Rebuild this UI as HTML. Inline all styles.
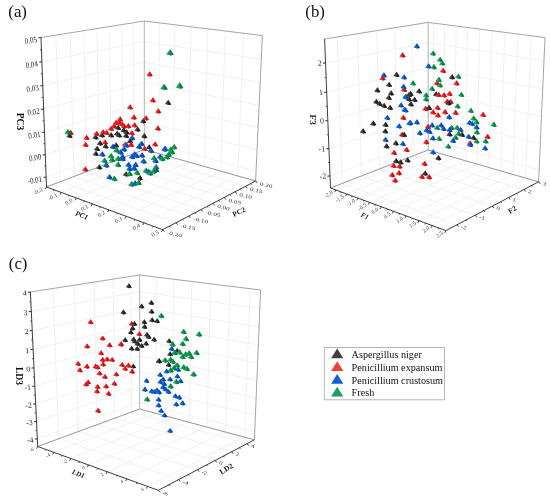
<!DOCTYPE html>
<html><head><meta charset="utf-8"><title>Figure</title>
<style>html,body{margin:0;padding:0;background:#fff}svg{display:block;font-family:"Liberation Serif","DejaVu Serif",serif}</style></head>
<body>
<svg width="550" height="501" viewBox="0 0 550 501">
<rect width="550" height="501" fill="#fff"/>
<defs><filter id="soft" x="0" y="0" width="550" height="501" filterUnits="userSpaceOnUse"><feGaussianBlur stdDeviation="0.38"/></filter><g id="mk"><polygon points="0.1,-2.7 -3.1,1.5 0.2,2.6 3.1,1.9" fill="#3c3c3c"/><polygon points="0.1,-2.7 0.2,2.6 3.1,1.9" fill="#1e1e1e"/></g><g id="mr"><polygon points="0.1,-2.7 -3.1,1.5 0.2,2.6 3.1,1.9" fill="#f22424"/><polygon points="0.1,-2.7 0.2,2.6 3.1,1.9" fill="#b81414"/></g><g id="mb"><polygon points="0.1,-2.7 -3.1,1.5 0.2,2.6 3.1,1.9" fill="#0c62dc"/><polygon points="0.1,-2.7 0.2,2.6 3.1,1.9" fill="#0844a0"/></g><g id="mg"><polygon points="0.1,-2.7 -3.1,1.5 0.2,2.6 3.1,1.9" fill="#12a254"/><polygon points="0.1,-2.7 0.2,2.6 3.1,1.9" fill="#0a7a3c"/></g></defs>
<g filter="url(#soft)">
<line x1="61.21" y1="192.41" x2="158.72" y2="153.56" stroke="#ececec" stroke-width="0.75" />
<line x1="158.60" y1="153.52" x2="159.38" y2="22.85" stroke="#ececec" stroke-width="0.75" />
<line x1="76.49" y1="198.02" x2="173.52" y2="157.75" stroke="#ececec" stroke-width="0.75" />
<line x1="173.32" y1="157.69" x2="174.92" y2="24.78" stroke="#ececec" stroke-width="0.75" />
<line x1="92.37" y1="203.86" x2="188.82" y2="162.08" stroke="#ececec" stroke-width="0.75" />
<line x1="188.57" y1="162.01" x2="191.06" y2="26.77" stroke="#ececec" stroke-width="0.75" />
<line x1="108.89" y1="209.93" x2="204.65" y2="166.57" stroke="#ececec" stroke-width="0.75" />
<line x1="204.39" y1="166.49" x2="207.84" y2="28.85" stroke="#ececec" stroke-width="0.75" />
<line x1="126.09" y1="216.25" x2="221.04" y2="171.21" stroke="#ececec" stroke-width="0.75" />
<line x1="220.81" y1="171.15" x2="225.30" y2="31.01" stroke="#ececec" stroke-width="0.75" />
<line x1="144.01" y1="222.83" x2="238.01" y2="176.02" stroke="#ececec" stroke-width="0.75" />
<line x1="237.87" y1="175.98" x2="243.47" y2="33.26" stroke="#ececec" stroke-width="0.75" />
<line x1="60.35" y1="181.69" x2="176.07" y2="222.69" stroke="#ececec" stroke-width="0.75" />
<line x1="60.52" y1="181.63" x2="55.91" y2="35.12" stroke="#ececec" stroke-width="0.75" />
<line x1="73.70" y1="176.58" x2="188.88" y2="215.98" stroke="#ececec" stroke-width="0.75" />
<line x1="73.97" y1="176.48" x2="70.19" y2="32.84" stroke="#ececec" stroke-width="0.75" />
<line x1="86.55" y1="171.66" x2="201.15" y2="209.54" stroke="#ececec" stroke-width="0.75" />
<line x1="86.88" y1="171.53" x2="83.86" y2="30.66" stroke="#ececec" stroke-width="0.75" />
<line x1="98.95" y1="166.91" x2="212.93" y2="203.37" stroke="#ececec" stroke-width="0.75" />
<line x1="99.29" y1="166.78" x2="96.96" y2="28.57" stroke="#ececec" stroke-width="0.75" />
<line x1="110.91" y1="162.33" x2="224.23" y2="197.44" stroke="#ececec" stroke-width="0.75" />
<line x1="111.22" y1="162.21" x2="109.54" y2="26.56" stroke="#ececec" stroke-width="0.75" />
<line x1="122.46" y1="157.90" x2="235.10" y2="191.75" stroke="#ececec" stroke-width="0.75" />
<line x1="122.70" y1="157.81" x2="121.62" y2="24.63" stroke="#ececec" stroke-width="0.75" />
<line x1="133.62" y1="153.63" x2="245.54" y2="186.27" stroke="#ececec" stroke-width="0.75" />
<line x1="133.75" y1="153.58" x2="133.23" y2="22.78" stroke="#ececec" stroke-width="0.75" />
<line x1="46.14" y1="177.09" x2="144.40" y2="140.92" stroke="#ececec" stroke-width="0.75" />
<line x1="144.40" y1="140.96" x2="256.05" y2="171.40" stroke="#ececec" stroke-width="0.75" />
<line x1="45.32" y1="154.79" x2="144.40" y2="121.64" stroke="#ececec" stroke-width="0.75" />
<line x1="144.40" y1="121.76" x2="257.06" y2="149.79" stroke="#ececec" stroke-width="0.75" />
<line x1="44.48" y1="132.13" x2="144.40" y2="102.09" stroke="#ececec" stroke-width="0.75" />
<line x1="144.40" y1="102.25" x2="258.09" y2="127.79" stroke="#ececec" stroke-width="0.75" />
<line x1="43.63" y1="109.07" x2="144.40" y2="82.26" stroke="#ececec" stroke-width="0.75" />
<line x1="144.40" y1="82.43" x2="259.14" y2="105.38" stroke="#ececec" stroke-width="0.75" />
<line x1="42.77" y1="85.62" x2="144.40" y2="62.13" stroke="#ececec" stroke-width="0.75" />
<line x1="144.40" y1="62.29" x2="260.20" y2="82.55" stroke="#ececec" stroke-width="0.75" />
<line x1="41.89" y1="61.77" x2="144.40" y2="41.72" stroke="#ececec" stroke-width="0.75" />
<line x1="144.40" y1="41.81" x2="261.29" y2="59.30" stroke="#ececec" stroke-width="0.75" />
<line x1="144.40" y1="21.00" x2="144.40" y2="149.50" stroke="#c4c4c4" stroke-width="1.3" />
<line x1="41.00" y1="37.50" x2="144.40" y2="21.00" stroke="#9a9a9a" stroke-width="0.9" />
<line x1="144.40" y1="21.00" x2="262.40" y2="35.60" stroke="#9a9a9a" stroke-width="0.9" />
<line x1="262.40" y1="35.60" x2="255.60" y2="181.00" stroke="#9a9a9a" stroke-width="0.9" />
<line x1="46.50" y1="187.00" x2="144.40" y2="149.50" stroke="#8a8a8a" stroke-width="0.9" />
<line x1="144.40" y1="149.50" x2="255.60" y2="181.00" stroke="#8a8a8a" stroke-width="0.9" />
<use href="#mg" transform="translate(170.0 52.4) scale(1.20)"/>
<use href="#mr" x="149.6" y="74.0"/>
<use href="#mg" transform="translate(164.0 87.0) scale(1.20)"/>
<use href="#mg" transform="translate(179.6 85.6) scale(1.20)"/>
<use href="#mr" x="152.8" y="100.0"/>
<use href="#mk" x="168.0" y="102.5"/>
<use href="#mr" x="70.5" y="132.5"/>
<use href="#mk" x="69.5" y="135.5"/>
<use href="#mg" transform="translate(67.8 132.0) scale(1.08)"/>
<use href="#mr" x="86.5" y="137.5"/>
<use href="#mk" x="95.5" y="137.0"/>
<use href="#mr" x="96.5" y="133.5"/>
<use href="#mk" x="102.0" y="135.0"/>
<use href="#mr" x="103.0" y="132.0"/>
<use href="#mr" x="106.5" y="132.5"/>
<use href="#mr" x="114.0" y="126.0"/>
<use href="#mr" x="111.0" y="128.5"/>
<use href="#mk" x="111.0" y="135.0"/>
<use href="#mk" x="100.0" y="143.0"/>
<use href="#mr" x="105.0" y="142.0"/>
<use href="#mr" x="85.5" y="144.5"/>
<use href="#mr" x="130.0" y="107.0"/>
<use href="#mr" x="158.2" y="111.0"/>
<use href="#mr" x="133.8" y="117.2"/>
<use href="#mk" x="143.2" y="120.8"/>
<use href="#mr" x="145.8" y="118.0"/>
<use href="#mr" x="120.0" y="119.0"/>
<use href="#mr" x="116.0" y="122.5"/>
<use href="#mr" x="119.0" y="122.0"/>
<use href="#mr" x="122.0" y="124.0"/>
<use href="#mr" x="124.0" y="126.0"/>
<use href="#mr" x="128.2" y="125.8"/>
<use href="#mr" x="134.5" y="125.0"/>
<use href="#mk" x="137.5" y="129.2"/>
<use href="#mr" x="157.8" y="128.2"/>
<use href="#mk" x="118.0" y="127.5"/>
<use href="#mk" x="123.5" y="130.0"/>
<use href="#mk" x="126.5" y="132.0"/>
<use href="#mk" x="117.0" y="133.5"/>
<use href="#mk" x="119.0" y="135.0"/>
<use href="#mk" x="126.0" y="135.5"/>
<use href="#mr" x="131.8" y="133.0"/>
<use href="#mk" x="144.2" y="135.8"/>
<use href="#mb" transform="translate(132.0 137.8) scale(1.06)"/>
<use href="#mk" x="130.0" y="141.0"/>
<use href="#mb" transform="translate(141.5 143.5) scale(1.06)"/>
<use href="#mr" x="155.0" y="144.0"/>
<use href="#mk" x="105.5" y="146.0"/>
<use href="#mb" transform="translate(112.8 146.5) scale(1.06)"/>
<use href="#mk" x="97.0" y="148.5"/>
<use href="#mk" x="95.8" y="153.5"/>
<use href="#mb" transform="translate(102.2 154.0) scale(1.06)"/>
<use href="#mg" transform="translate(111.0 156.0) scale(1.08)"/>
<use href="#mg" transform="translate(112.0 159.5) scale(1.08)"/>
<use href="#mg" transform="translate(104.5 160.5) scale(1.08)"/>
<use href="#mb" transform="translate(106.2 165.0) scale(1.06)"/>
<use href="#mk" x="99.2" y="167.0"/>
<use href="#mr" x="85.2" y="169.0"/>
<use href="#mb" transform="translate(109.5 176.8) scale(1.06)"/>
<use href="#mg" transform="translate(114.2 178.5) scale(1.08)"/>
<use href="#mk" x="116.0" y="145.0"/>
<use href="#mr" x="125.0" y="144.5"/>
<use href="#mb" transform="translate(126.5 145.0) scale(1.06)"/>
<use href="#mr" x="131.0" y="144.5"/>
<use href="#mb" transform="translate(139.0 146.5) scale(1.06)"/>
<use href="#mk" x="149.0" y="147.0"/>
<use href="#mr" x="144.5" y="148.5"/>
<use href="#mb" transform="translate(151.0 150.5) scale(1.06)"/>
<use href="#mb" transform="translate(164.5 149.0) scale(1.06)"/>
<use href="#mg" transform="translate(116.5 150.0) scale(1.08)"/>
<use href="#mb" transform="translate(124.0 149.0) scale(1.06)"/>
<use href="#mb" transform="translate(120.5 152.0) scale(1.06)"/>
<use href="#mb" transform="translate(122.5 156.5) scale(1.06)"/>
<use href="#mb" transform="translate(122.5 158.5) scale(1.06)"/>
<use href="#mg" transform="translate(118.0 158.5) scale(1.08)"/>
<use href="#mb" transform="translate(134.5 154.0) scale(1.06)"/>
<use href="#mb" transform="translate(132.0 156.5) scale(1.06)"/>
<use href="#mb" transform="translate(136.5 155.5) scale(1.06)"/>
<use href="#mb" transform="translate(142.0 155.0) scale(1.06)"/>
<use href="#mb" transform="translate(143.5 161.0) scale(1.06)"/>
<use href="#mg" transform="translate(154.0 158.0) scale(1.08)"/>
<use href="#mb" transform="translate(155.5 160.5) scale(1.06)"/>
<use href="#mb" transform="translate(160.0 156.5) scale(1.06)"/>
<use href="#mg" transform="translate(162.0 158.5) scale(1.08)"/>
<use href="#mg" transform="translate(118.0 164.5) scale(1.08)"/>
<use href="#mb" transform="translate(128.5 164.5) scale(1.06)"/>
<use href="#mb" transform="translate(135.5 164.5) scale(1.06)"/>
<use href="#mb" transform="translate(129.5 168.5) scale(1.06)"/>
<use href="#mb" transform="translate(134.0 168.0) scale(1.06)"/>
<use href="#mg" transform="translate(156.0 167.0) scale(1.08)"/>
<use href="#mb" transform="translate(156.0 169.5) scale(1.06)"/>
<use href="#mg" transform="translate(146.0 170.5) scale(1.08)"/>
<use href="#mb" transform="translate(148.5 171.5) scale(1.06)"/>
<use href="#mg" transform="translate(150.0 173.0) scale(1.08)"/>
<use href="#mg" transform="translate(153.5 171.0) scale(1.08)"/>
<use href="#mg" transform="translate(137.0 172.5) scale(1.08)"/>
<use href="#mk" x="126.0" y="174.0"/>
<use href="#mg" transform="translate(129.5 173.5) scale(1.08)"/>
<use href="#mk" x="139.8" y="177.8"/>
<use href="#mg" transform="translate(131.5 184.0) scale(1.08)"/>
<use href="#mb" transform="translate(135.0 183.0) scale(1.06)"/>
<use href="#mg" transform="translate(138.5 182.5) scale(1.08)"/>
<use href="#mg" transform="translate(174.0 146.8) scale(1.08)"/>
<use href="#mb" transform="translate(165.0 148.5) scale(1.06)"/>
<use href="#mg" transform="translate(170.6 149.5) scale(1.08)"/>
<use href="#mg" transform="translate(171.8 151.7) scale(1.08)"/>
<use href="#mg" transform="translate(168.6 154.3) scale(1.08)"/>
<use href="#mg" transform="translate(166.8 156.8) scale(1.08)"/>
<line x1="41.00" y1="37.50" x2="46.50" y2="187.00" stroke="#333" stroke-width="0.95" />
<line x1="46.50" y1="187.00" x2="162.70" y2="229.70" stroke="#303030" stroke-width="0.95" />
<line x1="162.70" y1="229.70" x2="255.60" y2="181.00" stroke="#303030" stroke-width="0.95" />
<line x1="46.14" y1="177.09" x2="43.54" y2="177.39" stroke="#2a2a2a" stroke-width="1.0" />
<text transform="translate(42.54 181.49) rotate(-10) scale(0.86 1)" font-size="8.2" text-anchor="end" font-weight="normal" font-style="normal" fill="#222">-0.01</text>
<line x1="45.32" y1="154.79" x2="42.72" y2="155.09" stroke="#2a2a2a" stroke-width="1.0" />
<text transform="translate(41.72 159.19) rotate(-10) scale(0.86 1)" font-size="8.2" text-anchor="end" font-weight="normal" font-style="normal" fill="#222">0.00</text>
<line x1="44.48" y1="132.13" x2="41.88" y2="132.43" stroke="#2a2a2a" stroke-width="1.0" />
<text transform="translate(40.88 136.53) rotate(-10) scale(0.86 1)" font-size="8.2" text-anchor="end" font-weight="normal" font-style="normal" fill="#222">0.01</text>
<line x1="43.63" y1="109.07" x2="41.03" y2="109.37" stroke="#2a2a2a" stroke-width="1.0" />
<text transform="translate(40.03 113.47) rotate(-10) scale(0.86 1)" font-size="8.2" text-anchor="end" font-weight="normal" font-style="normal" fill="#222">0.02</text>
<line x1="42.77" y1="85.62" x2="40.17" y2="85.92" stroke="#2a2a2a" stroke-width="1.0" />
<text transform="translate(39.17 90.02) rotate(-10) scale(0.86 1)" font-size="8.2" text-anchor="end" font-weight="normal" font-style="normal" fill="#222">0.03</text>
<line x1="41.89" y1="61.77" x2="39.29" y2="62.07" stroke="#2a2a2a" stroke-width="1.0" />
<text transform="translate(38.29 66.17) rotate(-10) scale(0.86 1)" font-size="8.2" text-anchor="end" font-weight="normal" font-style="normal" fill="#222">0.04</text>
<line x1="41.00" y1="37.50" x2="38.40" y2="37.80" stroke="#2a2a2a" stroke-width="1.0" />
<text transform="translate(37.40 41.90) rotate(-10) scale(0.86 1)" font-size="8.2" text-anchor="end" font-weight="normal" font-style="normal" fill="#222">0.05</text>
<line x1="45.73" y1="165.99" x2="44.23" y2="166.19" stroke="#2a2a2a" stroke-width="0.8" />
<line x1="44.90" y1="143.51" x2="43.40" y2="143.71" stroke="#2a2a2a" stroke-width="0.8" />
<line x1="44.06" y1="120.65" x2="42.56" y2="120.85" stroke="#2a2a2a" stroke-width="0.8" />
<line x1="43.20" y1="97.40" x2="41.70" y2="97.60" stroke="#2a2a2a" stroke-width="0.8" />
<line x1="42.33" y1="73.75" x2="40.83" y2="73.95" stroke="#2a2a2a" stroke-width="0.8" />
<line x1="41.45" y1="49.69" x2="39.95" y2="49.89" stroke="#2a2a2a" stroke-width="0.8" />
<line x1="46.50" y1="187.00" x2="45.30" y2="189.20" stroke="#2a2a2a" stroke-width="0.9" />
<text transform="translate(43.10 190.60) rotate(-30) " font-size="6.0" text-anchor="end" font-weight="normal" font-style="normal" fill="#333">-0.2</text>
<line x1="61.21" y1="192.41" x2="60.01" y2="194.61" stroke="#2a2a2a" stroke-width="0.9" />
<text transform="translate(57.81 196.01) rotate(-30) " font-size="6.0" text-anchor="end" font-weight="normal" font-style="normal" fill="#333">-0.1</text>
<line x1="76.49" y1="198.02" x2="75.29" y2="200.22" stroke="#2a2a2a" stroke-width="0.9" />
<text transform="translate(73.09 201.62) rotate(-30) " font-size="6.0" text-anchor="end" font-weight="normal" font-style="normal" fill="#333">0.0</text>
<line x1="92.37" y1="203.86" x2="91.17" y2="206.06" stroke="#2a2a2a" stroke-width="0.9" />
<text transform="translate(88.97 207.46) rotate(-30) " font-size="6.0" text-anchor="end" font-weight="normal" font-style="normal" fill="#333">0.1</text>
<line x1="108.89" y1="209.93" x2="107.69" y2="212.13" stroke="#2a2a2a" stroke-width="0.9" />
<text transform="translate(105.49 213.53) rotate(-30) " font-size="6.0" text-anchor="end" font-weight="normal" font-style="normal" fill="#333">0.2</text>
<line x1="126.09" y1="216.25" x2="124.89" y2="218.45" stroke="#2a2a2a" stroke-width="0.9" />
<text transform="translate(122.69 219.85) rotate(-30) " font-size="6.0" text-anchor="end" font-weight="normal" font-style="normal" fill="#333">0.3</text>
<line x1="144.01" y1="222.83" x2="142.81" y2="225.03" stroke="#2a2a2a" stroke-width="0.9" />
<text transform="translate(140.61 226.43) rotate(-30) " font-size="6.0" text-anchor="end" font-weight="normal" font-style="normal" fill="#333">0.4</text>
<line x1="162.70" y1="229.70" x2="161.50" y2="231.90" stroke="#2a2a2a" stroke-width="0.9" />
<text transform="translate(159.30 233.30) rotate(-30) " font-size="6.0" text-anchor="end" font-weight="normal" font-style="normal" fill="#333">0.5</text>
<line x1="53.79" y1="189.68" x2="53.09" y2="190.98" stroke="#2a2a2a" stroke-width="0.8" />
<line x1="68.78" y1="195.19" x2="68.08" y2="196.49" stroke="#2a2a2a" stroke-width="0.8" />
<line x1="84.35" y1="200.91" x2="83.65" y2="202.21" stroke="#2a2a2a" stroke-width="0.8" />
<line x1="100.55" y1="206.86" x2="99.85" y2="208.16" stroke="#2a2a2a" stroke-width="0.8" />
<line x1="117.40" y1="213.05" x2="116.70" y2="214.35" stroke="#2a2a2a" stroke-width="0.8" />
<line x1="134.96" y1="219.51" x2="134.26" y2="220.81" stroke="#2a2a2a" stroke-width="0.8" />
<line x1="153.26" y1="226.23" x2="152.56" y2="227.53" stroke="#2a2a2a" stroke-width="0.8" />
<line x1="169.46" y1="226.16" x2="170.36" y2="227.36" stroke="#2a2a2a" stroke-width="0.8" />
<line x1="182.54" y1="219.30" x2="183.44" y2="220.50" stroke="#2a2a2a" stroke-width="0.8" />
<line x1="195.08" y1="212.73" x2="195.98" y2="213.93" stroke="#2a2a2a" stroke-width="0.8" />
<line x1="207.10" y1="206.42" x2="208.00" y2="207.62" stroke="#2a2a2a" stroke-width="0.8" />
<line x1="218.64" y1="200.38" x2="219.54" y2="201.58" stroke="#2a2a2a" stroke-width="0.8" />
<line x1="229.72" y1="194.57" x2="230.62" y2="195.77" stroke="#2a2a2a" stroke-width="0.8" />
<line x1="240.37" y1="188.98" x2="241.27" y2="190.18" stroke="#2a2a2a" stroke-width="0.8" />
<line x1="250.62" y1="183.61" x2="251.52" y2="184.81" stroke="#2a2a2a" stroke-width="0.8" />
<line x1="162.70" y1="229.70" x2="164.30" y2="231.70" stroke="#2a2a2a" stroke-width="0.9" />
<text transform="translate(166.70 233.90) rotate(13) scale(1.5 1)" font-size="4.9" text-anchor="start" font-weight="normal" font-style="normal" fill="#333">-0.20</text>
<line x1="176.07" y1="222.69" x2="177.67" y2="224.69" stroke="#2a2a2a" stroke-width="0.9" />
<text transform="translate(180.07 226.89) rotate(13) scale(1.5 1)" font-size="4.9" text-anchor="start" font-weight="normal" font-style="normal" fill="#333">-0.15</text>
<line x1="188.88" y1="215.98" x2="190.48" y2="217.98" stroke="#2a2a2a" stroke-width="0.9" />
<text transform="translate(192.88 220.18) rotate(13) scale(1.5 1)" font-size="4.9" text-anchor="start" font-weight="normal" font-style="normal" fill="#333">-0.10</text>
<line x1="201.15" y1="209.54" x2="202.75" y2="211.54" stroke="#2a2a2a" stroke-width="0.9" />
<text transform="translate(205.15 213.74) rotate(13) scale(1.5 1)" font-size="4.9" text-anchor="start" font-weight="normal" font-style="normal" fill="#333">-0.05</text>
<line x1="212.93" y1="203.37" x2="214.53" y2="205.37" stroke="#2a2a2a" stroke-width="0.9" />
<text transform="translate(216.93 207.57) rotate(13) scale(1.5 1)" font-size="4.9" text-anchor="start" font-weight="normal" font-style="normal" fill="#333">0.00</text>
<line x1="224.23" y1="197.44" x2="225.83" y2="199.44" stroke="#2a2a2a" stroke-width="0.9" />
<text transform="translate(228.23 201.64) rotate(13) scale(1.5 1)" font-size="4.9" text-anchor="start" font-weight="normal" font-style="normal" fill="#333">0.05</text>
<line x1="235.10" y1="191.75" x2="236.70" y2="193.75" stroke="#2a2a2a" stroke-width="0.9" />
<text transform="translate(239.10 195.95) rotate(13) scale(1.5 1)" font-size="4.9" text-anchor="start" font-weight="normal" font-style="normal" fill="#333">0.10</text>
<line x1="245.54" y1="186.27" x2="247.14" y2="188.27" stroke="#2a2a2a" stroke-width="0.9" />
<text transform="translate(249.54 190.47) rotate(13) scale(1.5 1)" font-size="4.9" text-anchor="start" font-weight="normal" font-style="normal" fill="#333">0.15</text>
<line x1="255.60" y1="181.00" x2="257.20" y2="183.00" stroke="#2a2a2a" stroke-width="0.9" />
<text transform="translate(259.60 185.20) rotate(13) scale(1.5 1)" font-size="4.9" text-anchor="start" font-weight="normal" font-style="normal" fill="#333">0.20</text>
<text transform="translate(80.80 217.60) rotate(21) " font-size="7.4" text-anchor="middle" font-weight="bold" font-style="italic" fill="#111">PC1</text>
<text transform="translate(240.00 214.00) rotate(-26) " font-size="7.2" text-anchor="middle" font-weight="bold" font-style="normal" fill="#111">PC2</text>
<text transform="translate(16.60 121.50) rotate(90) " font-size="9.6" text-anchor="middle" font-weight="bold" font-style="normal" fill="#111">PC3</text>
<line x1="335.86" y1="189.98" x2="433.41" y2="151.50" stroke="#ececec" stroke-width="0.75" />
<line x1="433.34" y1="151.48" x2="433.61" y2="23.10" stroke="#ececec" stroke-width="0.75" />
<line x1="346.78" y1="194.01" x2="444.02" y2="154.56" stroke="#ececec" stroke-width="0.75" />
<line x1="443.83" y1="154.50" x2="444.64" y2="24.54" stroke="#ececec" stroke-width="0.75" />
<line x1="358.00" y1="198.15" x2="454.88" y2="157.68" stroke="#ececec" stroke-width="0.75" />
<line x1="454.60" y1="157.60" x2="455.98" y2="26.01" stroke="#ececec" stroke-width="0.75" />
<line x1="369.53" y1="202.41" x2="465.99" y2="160.88" stroke="#ececec" stroke-width="0.75" />
<line x1="465.64" y1="160.79" x2="467.63" y2="27.53" stroke="#ececec" stroke-width="0.75" />
<line x1="381.37" y1="206.78" x2="477.37" y2="164.16" stroke="#ececec" stroke-width="0.75" />
<line x1="476.99" y1="164.05" x2="479.61" y2="29.09" stroke="#ececec" stroke-width="0.75" />
<line x1="393.55" y1="211.28" x2="489.02" y2="167.52" stroke="#ececec" stroke-width="0.75" />
<line x1="488.64" y1="167.41" x2="491.94" y2="30.70" stroke="#ececec" stroke-width="0.75" />
<line x1="406.08" y1="215.90" x2="500.96" y2="170.96" stroke="#ececec" stroke-width="0.75" />
<line x1="500.61" y1="170.86" x2="504.63" y2="32.35" stroke="#ececec" stroke-width="0.75" />
<line x1="418.97" y1="220.66" x2="513.19" y2="174.48" stroke="#ececec" stroke-width="0.75" />
<line x1="512.92" y1="174.40" x2="517.69" y2="34.05" stroke="#ececec" stroke-width="0.75" />
<line x1="432.24" y1="225.56" x2="525.74" y2="178.10" stroke="#ececec" stroke-width="0.75" />
<line x1="525.58" y1="178.05" x2="531.14" y2="35.80" stroke="#ececec" stroke-width="0.75" />
<line x1="341.99" y1="183.53" x2="456.98" y2="224.77" stroke="#ececec" stroke-width="0.75" />
<line x1="342.22" y1="183.44" x2="337.13" y2="36.99" stroke="#ececec" stroke-width="0.75" />
<line x1="361.01" y1="176.13" x2="475.21" y2="215.17" stroke="#ececec" stroke-width="0.75" />
<line x1="361.47" y1="175.95" x2="357.64" y2="33.71" stroke="#ececec" stroke-width="0.75" />
<line x1="379.07" y1="169.11" x2="492.40" y2="206.12" stroke="#ececec" stroke-width="0.75" />
<line x1="379.61" y1="168.90" x2="376.91" y2="30.62" stroke="#ececec" stroke-width="0.75" />
<line x1="396.24" y1="162.43" x2="508.65" y2="197.57" stroke="#ececec" stroke-width="0.75" />
<line x1="396.72" y1="162.24" x2="395.02" y2="27.72" stroke="#ececec" stroke-width="0.75" />
<line x1="412.60" y1="156.07" x2="524.03" y2="189.47" stroke="#ececec" stroke-width="0.75" />
<line x1="412.89" y1="155.95" x2="412.09" y2="24.98" stroke="#ececec" stroke-width="0.75" />
<line x1="330.02" y1="175.90" x2="428.20" y2="139.55" stroke="#ececec" stroke-width="0.75" />
<line x1="428.20" y1="139.55" x2="539.12" y2="170.06" stroke="#ececec" stroke-width="0.75" />
<line x1="328.94" y1="148.57" x2="428.20" y2="116.01" stroke="#ececec" stroke-width="0.75" />
<line x1="428.20" y1="116.00" x2="540.30" y2="143.58" stroke="#ececec" stroke-width="0.75" />
<line x1="327.83" y1="120.64" x2="428.20" y2="92.03" stroke="#ececec" stroke-width="0.75" />
<line x1="428.20" y1="92.02" x2="541.50" y2="116.52" stroke="#ececec" stroke-width="0.75" />
<line x1="326.70" y1="92.07" x2="428.20" y2="67.59" stroke="#ececec" stroke-width="0.75" />
<line x1="428.20" y1="67.58" x2="542.72" y2="88.89" stroke="#ececec" stroke-width="0.75" />
<line x1="325.54" y1="62.86" x2="428.20" y2="42.68" stroke="#ececec" stroke-width="0.75" />
<line x1="428.20" y1="42.67" x2="543.98" y2="60.64" stroke="#ececec" stroke-width="0.75" />
<line x1="428.20" y1="22.40" x2="428.20" y2="150.00" stroke="#c4c4c4" stroke-width="1.3" />
<line x1="324.60" y1="39.00" x2="428.20" y2="22.40" stroke="#9a9a9a" stroke-width="0.9" />
<line x1="428.20" y1="22.40" x2="545.00" y2="37.60" stroke="#9a9a9a" stroke-width="0.9" />
<line x1="545.00" y1="37.60" x2="538.60" y2="181.80" stroke="#9a9a9a" stroke-width="0.9" />
<line x1="330.50" y1="188.00" x2="428.20" y2="150.00" stroke="#8a8a8a" stroke-width="0.9" />
<line x1="428.20" y1="150.00" x2="538.60" y2="181.80" stroke="#8a8a8a" stroke-width="0.9" />
<use href="#mr" x="402.5" y="55.0"/>
<use href="#mr" x="382.5" y="78.0"/>
<use href="#mb" x="383.8" y="75.0"/>
<use href="#mk" x="396.5" y="74.5"/>
<use href="#mb" x="404.0" y="77.0"/>
<use href="#mk" x="389.0" y="84.5"/>
<use href="#mr" x="404.0" y="89.5"/>
<use href="#mb" x="403.5" y="86.5"/>
<use href="#mk" x="377.3" y="90.0"/>
<use href="#mb" x="416.8" y="46.0"/>
<use href="#mg" x="433.0" y="53.2"/>
<use href="#mg" x="440.0" y="59.5"/>
<use href="#mg" x="442.2" y="63.0"/>
<use href="#mb" x="428.5" y="66.0"/>
<use href="#mg" x="433.8" y="66.8"/>
<use href="#mr" x="443.0" y="70.5"/>
<use href="#mk" x="452.0" y="76.8"/>
<use href="#mg" x="458.3" y="76.3"/>
<use href="#mk" x="391.0" y="93.0"/>
<use href="#mk" x="388.8" y="97.5"/>
<use href="#mk" x="409.0" y="94.5"/>
<use href="#mb" x="405.5" y="96.5"/>
<use href="#mk" x="376.2" y="101.5"/>
<use href="#mk" x="379.5" y="103.5"/>
<use href="#mk" x="384.0" y="105.5"/>
<use href="#mk" x="390.0" y="107.5"/>
<use href="#mb" x="401.0" y="105.0"/>
<use href="#mb" x="404.5" y="109.5"/>
<use href="#mb" x="387.2" y="117.5"/>
<use href="#mr" x="403.2" y="117.5"/>
<use href="#mk" x="373.2" y="123.2"/>
<use href="#mk" x="385.5" y="124.5"/>
<use href="#mb" x="399.0" y="126.0"/>
<use href="#mb" x="409.5" y="123.0"/>
<use href="#mk" x="363.0" y="131.0"/>
<use href="#mk" x="385.2" y="131.0"/>
<use href="#mr" x="402.0" y="134.5"/>
<use href="#mk" x="404.0" y="134.5"/>
<use href="#mr" x="437.0" y="83.0"/>
<use href="#mg" x="438.8" y="79.5"/>
<use href="#mg" x="440.0" y="85.0"/>
<use href="#mr" x="456.5" y="83.0"/>
<use href="#mg" x="413.0" y="83.0"/>
<use href="#mg" x="432.0" y="88.5"/>
<use href="#mk" x="419.0" y="91.0"/>
<use href="#mk" x="410.5" y="93.5"/>
<use href="#mk" x="436.0" y="94.0"/>
<use href="#mr" x="438.5" y="94.5"/>
<use href="#mr" x="444.0" y="95.0"/>
<use href="#mr" x="449.5" y="93.5"/>
<use href="#mg" x="426.0" y="95.0"/>
<use href="#mg" x="426.0" y="99.0"/>
<use href="#mb" x="406.0" y="97.0"/>
<use href="#mk" x="409.0" y="99.0"/>
<use href="#mk" x="414.5" y="99.5"/>
<use href="#mk" x="410.8" y="104.0"/>
<use href="#mr" x="447.0" y="101.5"/>
<use href="#mr" x="450.5" y="101.5"/>
<use href="#mk" x="448.5" y="102.8"/>
<use href="#mg" x="457.5" y="106.0"/>
<use href="#mg" x="461.2" y="94.5"/>
<use href="#mr" x="425.5" y="108.5"/>
<use href="#mk" x="429.0" y="107.5"/>
<use href="#mr" x="437.5" y="107.5"/>
<use href="#mr" x="433.0" y="112.0"/>
<use href="#mr" x="437.8" y="115.0"/>
<use href="#mr" x="445.0" y="111.8"/>
<use href="#mr" x="455.5" y="112.5"/>
<use href="#mb" x="449.0" y="116.8"/>
<use href="#mb" x="405.5" y="110.0"/>
<use href="#mb" x="410.2" y="122.5"/>
<use href="#mb" x="416.8" y="122.0"/>
<use href="#mg" x="470.8" y="110.5"/>
<use href="#mr" x="483.0" y="114.5"/>
<use href="#mg" x="473.5" y="118.2"/>
<use href="#mg" x="476.5" y="121.8"/>
<use href="#mb" x="469.5" y="122.5"/>
<use href="#mb" x="472.0" y="123.5"/>
<use href="#mg" x="493.7" y="124.3"/>
<use href="#mr" x="428.0" y="126.5"/>
<use href="#mb" x="432.0" y="125.0"/>
<use href="#mb" x="441.0" y="125.0"/>
<use href="#mg" x="437.0" y="127.5"/>
<use href="#mb" x="443.5" y="128.5"/>
<use href="#mb" x="426.5" y="130.0"/>
<use href="#mb" x="429.5" y="131.5"/>
<use href="#mb" x="419.8" y="132.8"/>
<use href="#mg" x="451.5" y="127.5"/>
<use href="#mb" x="449.5" y="129.5"/>
<use href="#mg" x="457.0" y="127.5"/>
<use href="#mb" x="460.5" y="129.5"/>
<use href="#mk" x="449.5" y="134.0"/>
<use href="#mb" x="432.8" y="138.0"/>
<use href="#mg" x="439.0" y="138.5"/>
<use href="#mb" x="476.5" y="127.0"/>
<use href="#mg" x="476.8" y="132.0"/>
<use href="#mg" x="458.5" y="133.5"/>
<use href="#mk" x="462.0" y="134.5"/>
<use href="#mg" x="455.5" y="137.3"/>
<use href="#mb" x="453.0" y="140.5"/>
<use href="#mb" x="468.5" y="136.5"/>
<use href="#mk" x="473.5" y="137.5"/>
<use href="#mr" x="487.5" y="136.5"/>
<use href="#mg" x="476.5" y="141.0"/>
<use href="#mg" x="485.5" y="141.0"/>
<use href="#mr" x="470.0" y="143.0"/>
<use href="#mb" x="470.2" y="144.5"/>
<use href="#mb" x="485.0" y="148.0"/>
<use href="#mr" x="426.2" y="141.8"/>
<use href="#mg" x="448.2" y="146.2"/>
<use href="#mb" x="385.5" y="139.5"/>
<use href="#mk" x="395.8" y="143.0"/>
<use href="#mb" x="402.8" y="143.5"/>
<use href="#mk" x="386.5" y="146.0"/>
<use href="#mr" x="406.5" y="149.5"/>
<use href="#mr" x="394.0" y="152.5"/>
<use href="#mb" x="433.0" y="152.0"/>
<use href="#mk" x="438.3" y="157.8"/>
<use href="#mk" x="396.0" y="160.7"/>
<use href="#mk" x="400.5" y="162.0"/>
<use href="#mk" x="407.5" y="160.0"/>
<use href="#mr" x="393.5" y="165.5"/>
<use href="#mr" x="399.5" y="166.1"/>
<use href="#mr" x="424.5" y="163.5"/>
<use href="#mr" x="398.9" y="172.8"/>
<use href="#mr" x="392.1" y="174.7"/>
<use href="#mr" x="395.0" y="180.2"/>
<use href="#mk" x="425.0" y="173.2"/>
<use href="#mr" x="421.8" y="176.5"/>
<use href="#mr" x="429.0" y="176.8"/>
<line x1="324.60" y1="39.00" x2="330.50" y2="188.00" stroke="#333" stroke-width="0.95" />
<line x1="330.50" y1="188.00" x2="445.90" y2="230.60" stroke="#303030" stroke-width="0.95" />
<line x1="445.90" y1="230.60" x2="538.60" y2="181.80" stroke="#303030" stroke-width="0.95" />
<line x1="330.02" y1="175.90" x2="327.42" y2="176.20" stroke="#2a2a2a" stroke-width="1.0" />
<text transform="translate(326.42 178.50) rotate(-5) " font-size="7.8" text-anchor="end" font-weight="normal" font-style="normal" fill="#222">-2</text>
<line x1="328.94" y1="148.57" x2="326.34" y2="148.87" stroke="#2a2a2a" stroke-width="1.0" />
<text transform="translate(325.34 151.17) rotate(-5) " font-size="7.8" text-anchor="end" font-weight="normal" font-style="normal" fill="#222">-1</text>
<line x1="327.83" y1="120.64" x2="325.23" y2="120.94" stroke="#2a2a2a" stroke-width="1.0" />
<text transform="translate(324.23 123.24) rotate(-5) " font-size="7.8" text-anchor="end" font-weight="normal" font-style="normal" fill="#222">0</text>
<line x1="326.70" y1="92.07" x2="324.10" y2="92.37" stroke="#2a2a2a" stroke-width="1.0" />
<text transform="translate(323.10 94.67) rotate(-5) " font-size="7.8" text-anchor="end" font-weight="normal" font-style="normal" fill="#222">1</text>
<line x1="325.54" y1="62.86" x2="322.94" y2="63.16" stroke="#2a2a2a" stroke-width="1.0" />
<text transform="translate(321.94 65.46) rotate(-5) " font-size="7.8" text-anchor="end" font-weight="normal" font-style="normal" fill="#222">2</text>
<line x1="329.48" y1="162.31" x2="327.98" y2="162.51" stroke="#2a2a2a" stroke-width="0.8" />
<line x1="328.39" y1="134.68" x2="326.89" y2="134.88" stroke="#2a2a2a" stroke-width="0.8" />
<line x1="327.27" y1="106.43" x2="325.77" y2="106.63" stroke="#2a2a2a" stroke-width="0.8" />
<line x1="326.13" y1="77.55" x2="324.63" y2="77.75" stroke="#2a2a2a" stroke-width="0.8" />
<line x1="335.86" y1="189.98" x2="334.66" y2="192.18" stroke="#2a2a2a" stroke-width="0.9" />
<text transform="translate(333.36 193.18) rotate(-36) " font-size="5.7" text-anchor="end" font-weight="normal" font-style="normal" fill="#333">-2.0</text>
<line x1="346.78" y1="194.01" x2="345.58" y2="196.21" stroke="#2a2a2a" stroke-width="0.9" />
<text transform="translate(344.28 197.21) rotate(-36) " font-size="5.7" text-anchor="end" font-weight="normal" font-style="normal" fill="#333">-1.5</text>
<line x1="358.00" y1="198.15" x2="356.80" y2="200.35" stroke="#2a2a2a" stroke-width="0.9" />
<text transform="translate(355.50 201.35) rotate(-36) " font-size="5.7" text-anchor="end" font-weight="normal" font-style="normal" fill="#333">-1.0</text>
<line x1="369.53" y1="202.41" x2="368.33" y2="204.61" stroke="#2a2a2a" stroke-width="0.9" />
<text transform="translate(367.03 205.61) rotate(-36) " font-size="5.7" text-anchor="end" font-weight="normal" font-style="normal" fill="#333">-0.5</text>
<line x1="381.37" y1="206.78" x2="380.17" y2="208.98" stroke="#2a2a2a" stroke-width="0.9" />
<text transform="translate(378.87 209.98) rotate(-36) " font-size="5.7" text-anchor="end" font-weight="normal" font-style="normal" fill="#333">0.0</text>
<line x1="393.55" y1="211.28" x2="392.35" y2="213.48" stroke="#2a2a2a" stroke-width="0.9" />
<text transform="translate(391.05 214.48) rotate(-36) " font-size="5.7" text-anchor="end" font-weight="normal" font-style="normal" fill="#333">0.5</text>
<line x1="406.08" y1="215.90" x2="404.88" y2="218.10" stroke="#2a2a2a" stroke-width="0.9" />
<text transform="translate(403.58 219.10) rotate(-36) " font-size="5.7" text-anchor="end" font-weight="normal" font-style="normal" fill="#333">1.0</text>
<line x1="418.97" y1="220.66" x2="417.77" y2="222.86" stroke="#2a2a2a" stroke-width="0.9" />
<text transform="translate(416.47 223.86) rotate(-36) " font-size="5.7" text-anchor="end" font-weight="normal" font-style="normal" fill="#333">1.5</text>
<line x1="432.24" y1="225.56" x2="431.04" y2="227.76" stroke="#2a2a2a" stroke-width="0.9" />
<text transform="translate(429.74 228.76) rotate(-36) " font-size="5.7" text-anchor="end" font-weight="normal" font-style="normal" fill="#333">2.0</text>
<line x1="445.90" y1="230.60" x2="444.70" y2="232.80" stroke="#2a2a2a" stroke-width="0.9" />
<text transform="translate(443.40 233.80) rotate(-36) " font-size="5.7" text-anchor="end" font-weight="normal" font-style="normal" fill="#333">2.5</text>
<line x1="341.28" y1="191.98" x2="340.58" y2="193.28" stroke="#2a2a2a" stroke-width="0.8" />
<line x1="352.35" y1="196.07" x2="351.65" y2="197.37" stroke="#2a2a2a" stroke-width="0.8" />
<line x1="363.73" y1="200.27" x2="363.03" y2="201.57" stroke="#2a2a2a" stroke-width="0.8" />
<line x1="375.41" y1="204.58" x2="374.71" y2="205.88" stroke="#2a2a2a" stroke-width="0.8" />
<line x1="387.42" y1="209.01" x2="386.72" y2="210.31" stroke="#2a2a2a" stroke-width="0.8" />
<line x1="399.77" y1="213.57" x2="399.07" y2="214.87" stroke="#2a2a2a" stroke-width="0.8" />
<line x1="412.48" y1="218.26" x2="411.78" y2="219.56" stroke="#2a2a2a" stroke-width="0.8" />
<line x1="425.56" y1="223.09" x2="424.86" y2="224.39" stroke="#2a2a2a" stroke-width="0.8" />
<line x1="439.02" y1="228.06" x2="438.32" y2="229.36" stroke="#2a2a2a" stroke-width="0.8" />
<line x1="466.23" y1="219.90" x2="467.13" y2="221.10" stroke="#2a2a2a" stroke-width="0.8" />
<line x1="483.93" y1="210.58" x2="484.83" y2="211.78" stroke="#2a2a2a" stroke-width="0.8" />
<line x1="500.64" y1="201.78" x2="501.54" y2="202.98" stroke="#2a2a2a" stroke-width="0.8" />
<line x1="516.44" y1="193.46" x2="517.34" y2="194.66" stroke="#2a2a2a" stroke-width="0.8" />
<line x1="531.41" y1="185.59" x2="532.31" y2="186.79" stroke="#2a2a2a" stroke-width="0.8" />
<line x1="456.98" y1="224.77" x2="458.58" y2="226.77" stroke="#2a2a2a" stroke-width="0.9" />
<text transform="translate(460.58 227.97) rotate(18) scale(1.4 1)" font-size="5.0" text-anchor="start" font-weight="normal" font-style="normal" fill="#333">-2</text>
<line x1="475.21" y1="215.17" x2="476.81" y2="217.17" stroke="#2a2a2a" stroke-width="0.9" />
<text transform="translate(478.81 218.37) rotate(18) scale(1.4 1)" font-size="5.0" text-anchor="start" font-weight="normal" font-style="normal" fill="#333">-1</text>
<line x1="492.40" y1="206.12" x2="494.00" y2="208.12" stroke="#2a2a2a" stroke-width="0.9" />
<text transform="translate(496.00 209.32) rotate(18) scale(1.4 1)" font-size="5.0" text-anchor="start" font-weight="normal" font-style="normal" fill="#333">0</text>
<line x1="508.65" y1="197.57" x2="510.25" y2="199.57" stroke="#2a2a2a" stroke-width="0.9" />
<text transform="translate(512.25 200.77) rotate(18) scale(1.4 1)" font-size="5.0" text-anchor="start" font-weight="normal" font-style="normal" fill="#333">1</text>
<line x1="524.03" y1="189.47" x2="525.63" y2="191.47" stroke="#2a2a2a" stroke-width="0.9" />
<text transform="translate(527.63 192.67) rotate(18) scale(1.4 1)" font-size="5.0" text-anchor="start" font-weight="normal" font-style="normal" fill="#333">2</text>
<line x1="538.60" y1="181.80" x2="540.20" y2="183.80" stroke="#2a2a2a" stroke-width="0.9" />
<text transform="translate(542.20 185.00) rotate(18) scale(1.4 1)" font-size="5.0" text-anchor="start" font-weight="normal" font-style="normal" fill="#333">3</text>
<text transform="translate(363.80 218.00) rotate(25) " font-size="6.8" text-anchor="middle" font-weight="bold" font-style="italic" fill="#111">F1</text>
<text transform="translate(513.60 211.80) rotate(-32) " font-size="7.4" text-anchor="middle" font-weight="bold" font-style="normal" fill="#111">F2</text>
<text transform="translate(310.40 119.70) rotate(90) " font-size="9.2" text-anchor="middle" font-weight="bold" font-style="normal" fill="#111">F3</text>
<line x1="53.84" y1="452.36" x2="155.32" y2="413.22" stroke="#ececec" stroke-width="0.75" />
<line x1="155.59" y1="413.29" x2="156.37" y2="277.08" stroke="#ececec" stroke-width="0.75" />
<line x1="70.77" y1="458.51" x2="171.68" y2="417.61" stroke="#ececec" stroke-width="0.75" />
<line x1="172.14" y1="417.73" x2="173.75" y2="279.23" stroke="#ececec" stroke-width="0.75" />
<line x1="88.53" y1="464.96" x2="188.72" y2="422.18" stroke="#ececec" stroke-width="0.75" />
<line x1="189.28" y1="422.33" x2="191.78" y2="281.47" stroke="#ececec" stroke-width="0.75" />
<line x1="107.20" y1="471.74" x2="206.49" y2="426.94" stroke="#ececec" stroke-width="0.75" />
<line x1="207.04" y1="427.09" x2="210.51" y2="283.79" stroke="#ececec" stroke-width="0.75" />
<line x1="126.84" y1="478.87" x2="225.03" y2="431.92" stroke="#ececec" stroke-width="0.75" />
<line x1="225.46" y1="432.04" x2="229.96" y2="286.20" stroke="#ececec" stroke-width="0.75" />
<line x1="147.53" y1="486.39" x2="244.39" y2="437.11" stroke="#ececec" stroke-width="0.75" />
<line x1="244.57" y1="437.16" x2="250.18" y2="288.71" stroke="#ececec" stroke-width="0.75" />
<line x1="58.81" y1="438.73" x2="178.63" y2="479.62" stroke="#ececec" stroke-width="0.75" />
<line x1="58.61" y1="438.81" x2="52.98" y2="288.48" stroke="#ececec" stroke-width="0.75" />
<line x1="78.66" y1="431.43" x2="197.53" y2="469.68" stroke="#ececec" stroke-width="0.75" />
<line x1="78.35" y1="431.54" x2="74.22" y2="285.18" stroke="#ececec" stroke-width="0.75" />
<line x1="97.34" y1="424.55" x2="215.15" y2="460.42" stroke="#ececec" stroke-width="0.75" />
<line x1="97.03" y1="424.67" x2="94.24" y2="282.06" stroke="#ececec" stroke-width="0.75" />
<line x1="114.96" y1="418.07" x2="231.62" y2="451.77" stroke="#ececec" stroke-width="0.75" />
<line x1="114.73" y1="418.15" x2="113.15" y2="279.12" stroke="#ececec" stroke-width="0.75" />
<line x1="131.61" y1="411.94" x2="247.05" y2="443.66" stroke="#ececec" stroke-width="0.75" />
<line x1="131.52" y1="411.97" x2="131.02" y2="276.34" stroke="#ececec" stroke-width="0.75" />
<line x1="37.34" y1="438.79" x2="139.60" y2="402.25" stroke="#ececec" stroke-width="0.75" />
<line x1="139.60" y1="402.17" x2="254.71" y2="432.21" stroke="#ececec" stroke-width="0.75" />
<line x1="36.52" y1="421.47" x2="139.60" y2="387.11" stroke="#ececec" stroke-width="0.75" />
<line x1="139.60" y1="386.88" x2="255.42" y2="415.20" stroke="#ececec" stroke-width="0.75" />
<line x1="35.69" y1="403.87" x2="139.60" y2="371.76" stroke="#ececec" stroke-width="0.75" />
<line x1="139.60" y1="371.42" x2="256.13" y2="397.97" stroke="#ececec" stroke-width="0.75" />
<line x1="34.84" y1="385.99" x2="139.60" y2="356.20" stroke="#ececec" stroke-width="0.75" />
<line x1="139.60" y1="355.79" x2="256.85" y2="380.53" stroke="#ececec" stroke-width="0.75" />
<line x1="33.98" y1="367.80" x2="139.60" y2="340.41" stroke="#ececec" stroke-width="0.75" />
<line x1="139.60" y1="339.99" x2="257.58" y2="362.88" stroke="#ececec" stroke-width="0.75" />
<line x1="33.11" y1="349.32" x2="139.60" y2="324.41" stroke="#ececec" stroke-width="0.75" />
<line x1="139.60" y1="324.02" x2="258.32" y2="345.00" stroke="#ececec" stroke-width="0.75" />
<line x1="32.22" y1="330.53" x2="139.60" y2="308.17" stroke="#ececec" stroke-width="0.75" />
<line x1="139.60" y1="307.86" x2="259.07" y2="326.90" stroke="#ececec" stroke-width="0.75" />
<line x1="31.32" y1="311.43" x2="139.60" y2="291.71" stroke="#ececec" stroke-width="0.75" />
<line x1="139.60" y1="291.52" x2="259.83" y2="308.57" stroke="#ececec" stroke-width="0.75" />
<line x1="139.60" y1="275.00" x2="139.60" y2="409.00" stroke="#c4c4c4" stroke-width="1.3" />
<line x1="30.40" y1="292.00" x2="139.60" y2="275.00" stroke="#9a9a9a" stroke-width="0.9" />
<line x1="139.60" y1="275.00" x2="260.60" y2="290.00" stroke="#9a9a9a" stroke-width="0.9" />
<line x1="260.60" y1="290.00" x2="254.40" y2="439.80" stroke="#9a9a9a" stroke-width="0.9" />
<line x1="37.70" y1="446.50" x2="139.60" y2="409.00" stroke="#8a8a8a" stroke-width="0.9" />
<line x1="139.60" y1="409.00" x2="254.40" y2="439.80" stroke="#8a8a8a" stroke-width="0.9" />
<use href="#mr" transform="translate(90.5 321.8) scale(0.97)"/>
<use href="#mk" transform="translate(123.3 312.0) scale(0.95)"/>
<use href="#mr" transform="translate(102.5 338.0) scale(0.97)"/>
<use href="#mr" transform="translate(87.0 346.0) scale(0.97)"/>
<use href="#mr" transform="translate(109.5 344.8) scale(0.97)"/>
<use href="#mr" transform="translate(121.0 344.0) scale(0.97)"/>
<use href="#mk" transform="translate(125.0 339.7) scale(0.95)"/>
<use href="#mr" transform="translate(101.0 352.8) scale(0.97)"/>
<use href="#mk" transform="translate(128.8 285.8) scale(0.95)"/>
<use href="#mk" transform="translate(151.2 302.5) scale(0.95)"/>
<use href="#mk" transform="translate(141.5 306.0) scale(0.95)"/>
<use href="#mk" transform="translate(151.5 311.2) scale(0.95)"/>
<use href="#mg" transform="translate(161.2 315.5) scale(1.05)"/>
<use href="#mk" transform="translate(152.0 319.8) scale(0.95)"/>
<use href="#mk" transform="translate(157.0 320.7) scale(0.95)"/>
<use href="#mk" transform="translate(144.2 321.7) scale(0.95)"/>
<use href="#mr" transform="translate(131.5 323.5) scale(0.97)"/>
<use href="#mk" transform="translate(134.3 323.5) scale(0.95)"/>
<use href="#mk" transform="translate(144.5 326.5) scale(0.95)"/>
<use href="#mk" transform="translate(132.5 328.0) scale(0.95)"/>
<use href="#mk" transform="translate(130.8 332.0) scale(0.95)"/>
<use href="#mr" transform="translate(139.2 333.8) scale(0.97)"/>
<use href="#mk" transform="translate(146.8 334.5) scale(0.95)"/>
<use href="#mk" transform="translate(148.5 336.5) scale(0.95)"/>
<use href="#mk" transform="translate(133.5 339.0) scale(0.95)"/>
<use href="#mk" transform="translate(134.5 341.0) scale(0.95)"/>
<use href="#mk" transform="translate(139.5 339.5) scale(0.95)"/>
<use href="#mk" transform="translate(154.0 339.2) scale(0.95)"/>
<use href="#mr" transform="translate(121.0 343.9) scale(0.97)"/>
<use href="#mk" transform="translate(137.5 343.5) scale(0.95)"/>
<use href="#mk" transform="translate(146.0 343.2) scale(0.95)"/>
<use href="#mk" transform="translate(141.5 345.5) scale(0.95)"/>
<use href="#mk" transform="translate(131.5 348.2) scale(0.95)"/>
<use href="#mk" transform="translate(137.0 348.5) scale(0.95)"/>
<use href="#mk" transform="translate(169.0 340.7) scale(0.95)"/>
<use href="#mk" transform="translate(159.0 361.0) scale(0.95)"/>
<use href="#mg" transform="translate(183.5 331.5) scale(1.05)"/>
<use href="#mg" transform="translate(199.0 334.0) scale(1.05)"/>
<use href="#mg" transform="translate(186.0 338.5) scale(1.05)"/>
<use href="#mg" transform="translate(182.5 343.5) scale(1.05)"/>
<use href="#mg" transform="translate(172.5 344.0) scale(1.05)"/>
<use href="#mb" transform="translate(171.5 348.5) scale(0.97)"/>
<use href="#mk" transform="translate(177.0 350.5) scale(0.95)"/>
<use href="#mk" transform="translate(170.0 353.7) scale(0.95)"/>
<use href="#mg" transform="translate(174.5 352.5) scale(1.05)"/>
<use href="#mg" transform="translate(179.5 352.0) scale(1.05)"/>
<use href="#mg" transform="translate(185.5 354.0) scale(1.05)"/>
<use href="#mg" transform="translate(189.0 353.0) scale(1.05)"/>
<use href="#mg" transform="translate(196.5 352.5) scale(1.05)"/>
<use href="#mg" transform="translate(182.5 356.5) scale(1.05)"/>
<use href="#mg" transform="translate(191.0 356.5) scale(1.05)"/>
<use href="#mg" transform="translate(170.5 359.5) scale(1.05)"/>
<use href="#mg" transform="translate(172.6 361.3) scale(1.05)"/>
<use href="#mg" transform="translate(165.0 360.0) scale(1.05)"/>
<use href="#mk" transform="translate(168.5 364.5) scale(0.95)"/>
<use href="#mg" transform="translate(177.0 365.0) scale(1.05)"/>
<use href="#mg" transform="translate(174.0 367.7) scale(1.05)"/>
<use href="#mg" transform="translate(183.5 367.0) scale(1.05)"/>
<use href="#mg" transform="translate(186.8 368.5) scale(1.05)"/>
<use href="#mb" transform="translate(178.0 369.3) scale(0.97)"/>
<use href="#mr" transform="translate(102.5 359.5) scale(0.97)"/>
<use href="#mr" transform="translate(107.0 359.0) scale(0.97)"/>
<use href="#mr" transform="translate(112.0 359.5) scale(0.97)"/>
<use href="#mr" transform="translate(78.0 363.5) scale(0.97)"/>
<use href="#mr" transform="translate(103.0 364.0) scale(0.97)"/>
<use href="#mr" transform="translate(86.8 366.2) scale(0.97)"/>
<use href="#mr" transform="translate(95.5 366.2) scale(0.97)"/>
<use href="#mr" transform="translate(97.5 367.0) scale(0.97)"/>
<use href="#mr" transform="translate(79.8 369.8) scale(0.97)"/>
<use href="#mr" transform="translate(99.5 373.0) scale(0.97)"/>
<use href="#mr" transform="translate(104.8 376.5) scale(0.97)"/>
<use href="#mr" transform="translate(88.0 382.0) scale(0.97)"/>
<use href="#mr" transform="translate(86.0 384.0) scale(0.97)"/>
<use href="#mr" transform="translate(97.5 386.5) scale(0.97)"/>
<use href="#mr" transform="translate(106.0 386.0) scale(0.97)"/>
<use href="#mr" transform="translate(114.3 383.3) scale(0.97)"/>
<use href="#mr" transform="translate(97.0 391.0) scale(0.97)"/>
<use href="#mr" transform="translate(108.5 393.4) scale(0.97)"/>
<use href="#mr" transform="translate(98.0 410.4) scale(0.97)"/>
<use href="#mr" transform="translate(122.0 364.5) scale(0.97)"/>
<use href="#mr" transform="translate(128.3 365.2) scale(0.97)"/>
<use href="#mk" transform="translate(133.1 366.0) scale(0.95)"/>
<use href="#mr" transform="translate(125.0 368.3) scale(0.97)"/>
<use href="#mr" transform="translate(132.0 371.2) scale(0.97)"/>
<use href="#mr" transform="translate(116.2 374.0) scale(0.97)"/>
<use href="#mk" transform="translate(158.9 360.5) scale(0.95)"/>
<use href="#mb" transform="translate(166.5 371.0) scale(0.97)"/>
<use href="#mg" transform="translate(170.5 370.0) scale(1.05)"/>
<use href="#mg" transform="translate(193.5 374.0) scale(1.05)"/>
<use href="#mb" transform="translate(160.0 374.5) scale(0.97)"/>
<use href="#mb" transform="translate(177.2 376.0) scale(0.97)"/>
<use href="#mb" transform="translate(146.5 380.5) scale(0.97)"/>
<use href="#mb" transform="translate(163.0 379.0) scale(0.97)"/>
<use href="#mb" transform="translate(170.0 379.0) scale(0.97)"/>
<use href="#mb" transform="translate(160.3 381.5) scale(0.97)"/>
<use href="#mg" transform="translate(176.2 381.5) scale(1.05)"/>
<use href="#mb" transform="translate(180.5 380.8) scale(0.97)"/>
<use href="#mb" transform="translate(164.0 383.5) scale(0.97)"/>
<use href="#mg" transform="translate(170.5 386.0) scale(1.05)"/>
<use href="#mb" transform="translate(163.0 387.0) scale(0.97)"/>
<use href="#mb" transform="translate(165.5 389.0) scale(0.97)"/>
<use href="#mb" transform="translate(144.8 389.2) scale(0.97)"/>
<use href="#mb" transform="translate(151.5 391.0) scale(0.97)"/>
<use href="#mb" transform="translate(154.0 391.5) scale(0.97)"/>
<use href="#mb" transform="translate(156.8 390.0) scale(0.97)"/>
<use href="#mb" transform="translate(159.0 392.0) scale(0.97)"/>
<use href="#mb" transform="translate(168.5 391.5) scale(0.97)"/>
<use href="#mg" transform="translate(147.0 399.0) scale(1.05)"/>
<use href="#mb" transform="translate(175.3 395.8) scale(0.97)"/>
<use href="#mb" transform="translate(179.2 397.2) scale(0.97)"/>
<use href="#mb" transform="translate(158.5 399.3) scale(0.97)"/>
<use href="#mb" transform="translate(176.2 404.0) scale(0.97)"/>
<use href="#mb" transform="translate(182.5 402.9) scale(0.97)"/>
<use href="#mb" transform="translate(158.5 405.0) scale(0.97)"/>
<use href="#mb" transform="translate(161.0 410.5) scale(0.97)"/>
<use href="#mb" transform="translate(164.5 415.0) scale(0.97)"/>
<use href="#mb" transform="translate(170.0 430.5) scale(0.97)"/>
<line x1="30.40" y1="292.00" x2="37.70" y2="446.50" stroke="#333" stroke-width="0.95" />
<line x1="37.70" y1="446.50" x2="158.30" y2="490.30" stroke="#303030" stroke-width="0.95" />
<line x1="158.30" y1="490.30" x2="254.40" y2="439.80" stroke="#303030" stroke-width="0.95" />
<line x1="37.34" y1="438.79" x2="34.74" y2="439.09" stroke="#2a2a2a" stroke-width="1.0" />
<text transform="translate(33.74 442.29) rotate(-5) " font-size="7.8" text-anchor="end" font-weight="normal" font-style="normal" fill="#222">-4</text>
<line x1="36.52" y1="421.47" x2="33.92" y2="421.77" stroke="#2a2a2a" stroke-width="1.0" />
<text transform="translate(32.92 424.97) rotate(-5) " font-size="7.8" text-anchor="end" font-weight="normal" font-style="normal" fill="#222">-3</text>
<line x1="35.69" y1="403.87" x2="33.09" y2="404.17" stroke="#2a2a2a" stroke-width="1.0" />
<text transform="translate(32.09 407.37) rotate(-5) " font-size="7.8" text-anchor="end" font-weight="normal" font-style="normal" fill="#222">-2</text>
<line x1="34.84" y1="385.99" x2="32.24" y2="386.29" stroke="#2a2a2a" stroke-width="1.0" />
<text transform="translate(31.24 389.49) rotate(-5) " font-size="7.8" text-anchor="end" font-weight="normal" font-style="normal" fill="#222">-1</text>
<line x1="33.98" y1="367.80" x2="31.38" y2="368.10" stroke="#2a2a2a" stroke-width="1.0" />
<text transform="translate(30.38 371.30) rotate(-5) " font-size="7.8" text-anchor="end" font-weight="normal" font-style="normal" fill="#222">0</text>
<line x1="33.11" y1="349.32" x2="30.51" y2="349.62" stroke="#2a2a2a" stroke-width="1.0" />
<text transform="translate(29.51 352.82) rotate(-5) " font-size="7.8" text-anchor="end" font-weight="normal" font-style="normal" fill="#222">1</text>
<line x1="32.22" y1="330.53" x2="29.62" y2="330.83" stroke="#2a2a2a" stroke-width="1.0" />
<text transform="translate(28.62 334.03) rotate(-5) " font-size="7.8" text-anchor="end" font-weight="normal" font-style="normal" fill="#222">2</text>
<line x1="31.32" y1="311.43" x2="28.72" y2="311.73" stroke="#2a2a2a" stroke-width="1.0" />
<text transform="translate(27.72 314.93) rotate(-5) " font-size="7.8" text-anchor="end" font-weight="normal" font-style="normal" fill="#222">3</text>
<line x1="30.40" y1="292.00" x2="27.80" y2="292.30" stroke="#2a2a2a" stroke-width="1.0" />
<text transform="translate(26.80 295.50) rotate(-5) " font-size="7.8" text-anchor="end" font-weight="normal" font-style="normal" fill="#222">4</text>
<line x1="36.93" y1="430.17" x2="35.43" y2="430.37" stroke="#2a2a2a" stroke-width="0.8" />
<line x1="36.10" y1="412.71" x2="34.60" y2="412.91" stroke="#2a2a2a" stroke-width="0.8" />
<line x1="35.27" y1="394.97" x2="33.77" y2="395.17" stroke="#2a2a2a" stroke-width="0.8" />
<line x1="34.41" y1="376.93" x2="32.91" y2="377.13" stroke="#2a2a2a" stroke-width="0.8" />
<line x1="33.55" y1="358.60" x2="32.05" y2="358.80" stroke="#2a2a2a" stroke-width="0.8" />
<line x1="32.67" y1="339.97" x2="31.17" y2="340.17" stroke="#2a2a2a" stroke-width="0.8" />
<line x1="31.77" y1="321.02" x2="30.27" y2="321.22" stroke="#2a2a2a" stroke-width="0.8" />
<line x1="30.86" y1="301.76" x2="29.36" y2="301.96" stroke="#2a2a2a" stroke-width="0.8" />
<line x1="37.70" y1="446.50" x2="36.50" y2="448.70" stroke="#2a2a2a" stroke-width="0.9" />
<text transform="translate(34.50 450.00) rotate(-30) " font-size="5.0" text-anchor="end" font-weight="normal" font-style="normal" fill="#333">-6</text>
<line x1="53.84" y1="452.36" x2="52.64" y2="454.56" stroke="#2a2a2a" stroke-width="0.9" />
<text transform="translate(50.64 455.86) rotate(-30) " font-size="5.0" text-anchor="end" font-weight="normal" font-style="normal" fill="#333">-4</text>
<line x1="70.77" y1="458.51" x2="69.57" y2="460.71" stroke="#2a2a2a" stroke-width="0.9" />
<text transform="translate(67.57 462.01) rotate(-30) " font-size="5.0" text-anchor="end" font-weight="normal" font-style="normal" fill="#333">-2</text>
<line x1="88.53" y1="464.96" x2="87.33" y2="467.16" stroke="#2a2a2a" stroke-width="0.9" />
<text transform="translate(85.33 468.46) rotate(-30) " font-size="5.0" text-anchor="end" font-weight="normal" font-style="normal" fill="#333">0</text>
<line x1="107.20" y1="471.74" x2="106.00" y2="473.94" stroke="#2a2a2a" stroke-width="0.9" />
<text transform="translate(104.00 475.24) rotate(-30) " font-size="5.0" text-anchor="end" font-weight="normal" font-style="normal" fill="#333">2</text>
<line x1="126.84" y1="478.87" x2="125.64" y2="481.07" stroke="#2a2a2a" stroke-width="0.9" />
<text transform="translate(123.64 482.37) rotate(-30) " font-size="5.0" text-anchor="end" font-weight="normal" font-style="normal" fill="#333">4</text>
<line x1="147.53" y1="486.39" x2="146.33" y2="488.59" stroke="#2a2a2a" stroke-width="0.9" />
<text transform="translate(144.33 489.89) rotate(-30) " font-size="5.0" text-anchor="end" font-weight="normal" font-style="normal" fill="#333">6</text>
<line x1="45.68" y1="449.40" x2="44.98" y2="450.70" stroke="#2a2a2a" stroke-width="0.8" />
<line x1="62.20" y1="455.40" x2="61.50" y2="456.70" stroke="#2a2a2a" stroke-width="0.8" />
<line x1="79.54" y1="461.70" x2="78.84" y2="463.00" stroke="#2a2a2a" stroke-width="0.8" />
<line x1="97.75" y1="468.31" x2="97.05" y2="469.61" stroke="#2a2a2a" stroke-width="0.8" />
<line x1="116.89" y1="475.26" x2="116.19" y2="476.56" stroke="#2a2a2a" stroke-width="0.8" />
<line x1="137.05" y1="482.58" x2="136.35" y2="483.88" stroke="#2a2a2a" stroke-width="0.8" />
<line x1="168.65" y1="484.86" x2="169.55" y2="486.06" stroke="#2a2a2a" stroke-width="0.8" />
<line x1="188.25" y1="474.56" x2="189.15" y2="475.76" stroke="#2a2a2a" stroke-width="0.8" />
<line x1="206.49" y1="464.97" x2="207.39" y2="466.17" stroke="#2a2a2a" stroke-width="0.8" />
<line x1="223.53" y1="456.02" x2="224.43" y2="457.22" stroke="#2a2a2a" stroke-width="0.8" />
<line x1="239.46" y1="447.65" x2="240.36" y2="448.85" stroke="#2a2a2a" stroke-width="0.8" />
<line x1="158.30" y1="490.30" x2="159.90" y2="492.30" stroke="#2a2a2a" stroke-width="0.9" />
<text transform="translate(161.90 493.90) rotate(18) scale(1.4 1)" font-size="5.0" text-anchor="start" font-weight="normal" font-style="normal" fill="#333">-6</text>
<line x1="178.63" y1="479.62" x2="180.23" y2="481.62" stroke="#2a2a2a" stroke-width="0.9" />
<text transform="translate(182.23 483.22) rotate(18) scale(1.4 1)" font-size="5.0" text-anchor="start" font-weight="normal" font-style="normal" fill="#333">-4</text>
<line x1="197.53" y1="469.68" x2="199.13" y2="471.68" stroke="#2a2a2a" stroke-width="0.9" />
<text transform="translate(201.13 473.28) rotate(18) scale(1.4 1)" font-size="5.0" text-anchor="start" font-weight="normal" font-style="normal" fill="#333">-2</text>
<line x1="215.15" y1="460.42" x2="216.75" y2="462.42" stroke="#2a2a2a" stroke-width="0.9" />
<text transform="translate(218.75 464.02) rotate(18) scale(1.4 1)" font-size="5.0" text-anchor="start" font-weight="normal" font-style="normal" fill="#333">0</text>
<line x1="231.62" y1="451.77" x2="233.22" y2="453.77" stroke="#2a2a2a" stroke-width="0.9" />
<text transform="translate(235.22 455.37) rotate(18) scale(1.4 1)" font-size="5.0" text-anchor="start" font-weight="normal" font-style="normal" fill="#333">2</text>
<line x1="247.05" y1="443.66" x2="248.65" y2="445.66" stroke="#2a2a2a" stroke-width="0.9" />
<text transform="translate(250.65 447.26) rotate(18) scale(1.4 1)" font-size="5.0" text-anchor="start" font-weight="normal" font-style="normal" fill="#333">4</text>
<text transform="translate(77.50 476.00) rotate(22) " font-size="7.0" text-anchor="middle" font-weight="bold" font-style="italic" fill="#111">LD1</text>
<text transform="translate(227.60 471.00) rotate(-32) " font-size="7.6" text-anchor="middle" font-weight="bold" font-style="normal" fill="#111">LD2</text>
<text transform="translate(16.00 376.00) rotate(90) " font-size="9.6" text-anchor="middle" font-weight="bold" font-style="normal" fill="#111">LD3</text>
<text transform="translate(8.30 17.20) rotate(0) " font-size="16.8" text-anchor="start" font-weight="normal" font-style="normal" fill="#111">(a)</text>
<text transform="translate(305.30 17.20) rotate(0) " font-size="16.8" text-anchor="start" font-weight="normal" font-style="normal" fill="#111">(b)</text>
<text transform="translate(8.80 269.20) rotate(0) " font-size="16.8" text-anchor="start" font-weight="normal" font-style="normal" fill="#111">(c)</text>
<rect x="324.3" y="347.5" width="120.2" height="52.3" fill="#fff" stroke="#b0b0b0" stroke-width="0.9"/>
<polygon points="331.1,358.2 343.3,358.2 337.2,348.5" fill="#404040"/>
<text transform="translate(351.60 358.30) rotate(0) " font-size="10.2" text-anchor="start" font-weight="normal" font-style="normal" fill="#111">Aspergillus niger</text>
<polygon points="331.1,370.9 343.3,370.9 337.2,361.2" fill="#f03c3c"/>
<text transform="translate(351.60 371.03) rotate(0) " font-size="10.2" text-anchor="start" font-weight="normal" font-style="normal" fill="#111">Penicillium expansum</text>
<polygon points="331.1,383.7 343.3,383.7 337.2,374.0" fill="#0c60d4"/>
<text transform="translate(351.60 383.76) rotate(0) " font-size="10.2" text-anchor="start" font-weight="normal" font-style="normal" fill="#111">Penicillium crustosum</text>
<polygon points="331.1,396.4 343.3,396.4 337.2,386.7" fill="#1ca05c"/>
<text transform="translate(351.60 396.49) rotate(0) " font-size="10.2" text-anchor="start" font-weight="normal" font-style="normal" fill="#111">Fresh</text>
</g>
</svg>
</body></html>
